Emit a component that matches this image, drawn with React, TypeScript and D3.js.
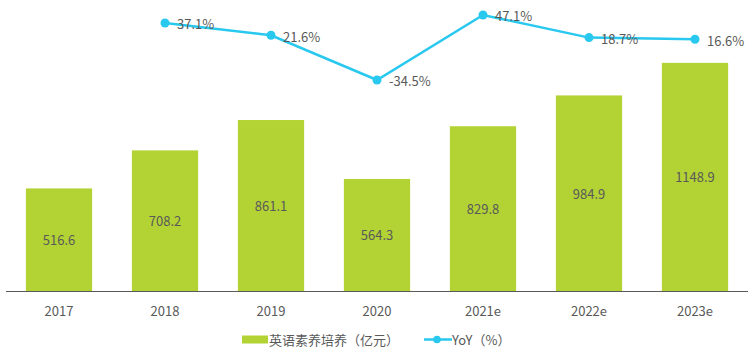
import React from "react";
import * as d3 from "d3";

const categories = ["2017", "2018", "2019", "2020", "2021e", "2022e", "2023e"];
const barValues = [516.6, 708.2, 861.1, 564.3, 829.8, 984.9, 1148.9];
const yoyValues: (number | null)[] = [null, 37.1, 21.6, -34.5, 47.1, 18.7, 16.6];
const barName = "英语素养培养（亿元）";
const lineName = "YoY（%）";

const W = 754, H = 355;
const font = "'Noto Sans CJK SC', 'Open Sans', sans-serif";
const textColor = "#595959";
const barColor = "#b3d335";
const lineColor = "#29c8ef";

export default function App() {
  const x = d3.scaleBand<string>().domain(categories).range([6, 748]).paddingInner(0.375).paddingOuter(0.1875);
  const y = d3.scaleLinear().domain([0, 1400]).range([291, 13]);
  const y2 = d3.scaleLinear().domain([-60, 60]).range([100.3, 4.7]);
  const pts = categories
    .map((c, i) => ({ c, v: yoyValues[i] }))
    .filter((d) => d.v !== null) as { c: string; v: number }[];
  const line = d3
    .line<{ c: string; v: number }>()
    .x((d) => x(d.c)! + x.bandwidth() / 2)
    .y((d) => y2(d.v));
  return (
    <svg width={W} height={H} style={{ position: "absolute", left: 0, top: 0 }} fontFamily={font}>
      {categories.map((c, i) => (
        <g key={c}>
          <rect x={x(c)} y={y(barValues[i])} width={x.bandwidth()} height={y(0) - y(barValues[i])} fill={barColor} />
          <text
            x={x(c)! + x.bandwidth() / 2}
            y={(y(barValues[i]) + y(0)) / 2}
            textAnchor="middle"
            dominantBaseline="central"
            fontSize={13}
            fill={textColor}
          >
            {barValues[i].toFixed(1)}
          </text>
          <text x={x(c)! + x.bandwidth() / 2} y={310} textAnchor="middle" dominantBaseline="central" fontSize={13} fill={textColor}>
            {c}
          </text>
        </g>
      ))}
      <line x1={6} x2={748} y1={291.5} y2={291.5} stroke="#595959" strokeWidth={1} />
      <path d={line(pts)!} fill="none" stroke={lineColor} strokeWidth={2.5} />
      {pts.map((d) => (
        <g key={d.c}>
          <circle cx={x(d.c)! + x.bandwidth() / 2} cy={y2(d.v)} r={4.5} fill={lineColor} />
          <text
            x={x(d.c)! + x.bandwidth() / 2 + 12}
            y={y2(d.v) + 1}
            dominantBaseline="central"
            fontSize={13}
            fill={textColor}
          >
            {d.v.toFixed(1) + "%"}
          </text>
        </g>
      ))}
      <g>
        <rect x={242} y={335.5} width={26} height={8} fill={barColor} />
        <text x={269} y={339} dominantBaseline="central" fontSize={13} fill={textColor}>
          {barName}
        </text>
        <line x1={424} x2={452} y1={339.5} y2={339.5} stroke={lineColor} strokeWidth={2.5} />
        <circle cx={437} cy={339.5} r={3.8} fill={lineColor} />
        <text x={452} y={339} dominantBaseline="central" fontSize={13} fill={textColor}>
          {lineName}
        </text>
      </g>
    </svg>
  );
}
